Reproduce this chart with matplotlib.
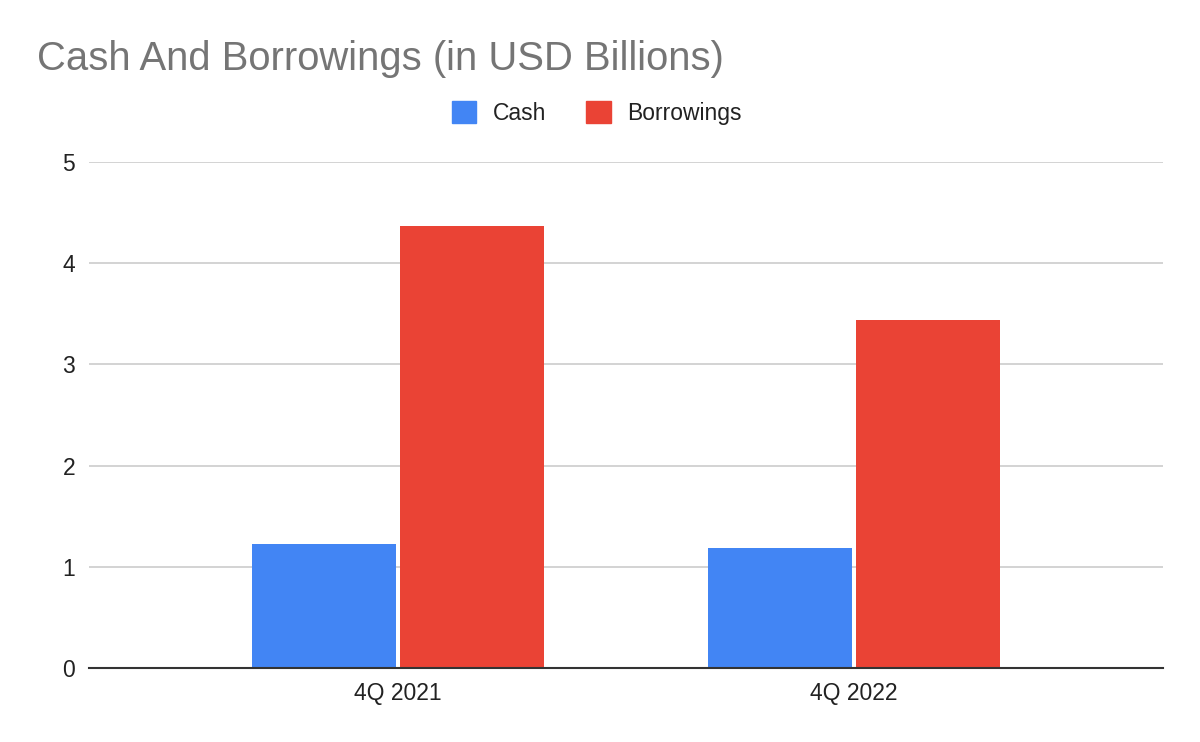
import matplotlib
matplotlib.use("Agg")
import matplotlib.pyplot as plt
import numpy as np
from matplotlib.patches import Patch

categories = ["4Q 2021", "4Q 2022"]
cash = [1.225, 1.19]
borrowings = [4.37, 3.44]
series_names = ["Cash", "Borrowings"]
colors = ["#4285F4", "#EA4335"]
yticks = [0, 1, 2, 3, 4, 5]

plt.rcParams['font.family'] = ['Liberation Sans', 'DejaVu Sans']

fig = plt.figure(figsize=(12, 7.42), dpi=100)
ax = fig.add_axes([89/1200, 1-668/742, (1163-89)/1200, (668-162)/742])

x = np.arange(len(categories))
w = 0.316
off = 0.162
ax.bar(x - off, cash, w, color=colors[0], zorder=3)
ax.bar(x + off, borrowings, w, color=colors[1], zorder=3)

ax.set_xlim(-0.678, 1.678)
ax.set_ylim(0, 5)
ax.set_yticks(yticks)
ax.set_yticklabels([str(t) for t in yticks], fontsize=16.5, color='#222222')
ax.set_xticks(x)
ax.set_xticklabels(categories, fontsize=16.5, color='#222222')
ax.tick_params(axis='both', length=0)
ax.tick_params(axis='y', pad=10)
ax.tick_params(axis='x', pad=10)
for s in ['top', 'right', 'left']:
    ax.spines[s].set_visible(False)
ax.spines['bottom'].set_color('#333333')
ax.spines['bottom'].set_linewidth(1.5)
ax.spines['bottom'].set_zorder(4)
ax.grid(axis='y', color='#cccccc', linewidth=1.2, zorder=0)
ax.set_axisbelow(True)

fig.text(37/1200, 1-59/742, "Cash And Borrowings (in USD Billions)", fontsize=28.8,
         color='#757575', va='center', ha='left')

handles = [Patch(facecolor=c, edgecolor=c) for c in colors]
fig.legend(handles, series_names, loc='center', bbox_to_anchor=(597/1200, 1-113/742),
           ncol=2, frameon=False, fontsize=16.5, handlelength=1.05, handleheight=1.05,
           columnspacing=1.75, handletextpad=0.74, labelcolor='#222222')

fig.savefig("out.png", dpi=100)
